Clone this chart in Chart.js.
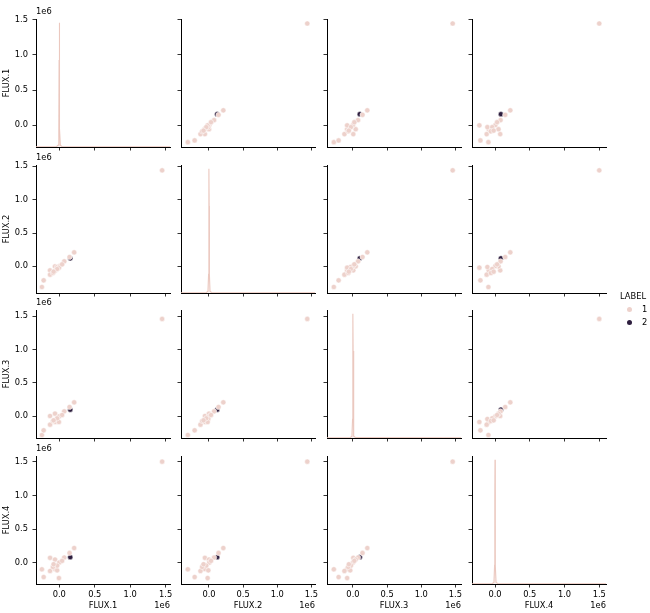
<!DOCTYPE html>
<html><head><meta charset="utf-8">
<script src="https://cdn.jsdelivr.net/npm/chart.js@4.4.0/dist/chart.umd.min.js"></script>
<style>
html,body{margin:0;padding:0;background:#fff;}
#wrap{position:relative;width:650px;height:613px;overflow:hidden;}
#wrap canvas{position:absolute;}
.leg{position:absolute;font-family:'DejaVu Sans';font-size:8.3px;color:#000;line-height:10px;white-space:nowrap;}
.dot{position:absolute;width:5px;height:5px;border-radius:50%;}
</style></head><body><div id="wrap"></div>
<script>
// ---------------- data ----------------
const variables = ['FLUX.1', 'FLUX.2', 'FLUX.3', 'FLUX.4'];
const labelClasses = [1, 2];
const flux1 = [1450000, 210000, 145000, 155000, 70000, -130000, -60000, 0, -245000, -60000, -130000, -30000, -220000, -5000, -30000, 40000, -90000, -80000];
const flux2 = [1440000, 210000, 140000, 120000, 75000, -60000, 0, 5000, -310000, -65000, -125000, -10000, -210000, -20000, -40000, 30000, -100000, -80000];
const flux3 = [1460000, 210000, 140000, 100000, 75000, 5000, 40000, 0, -280000, -85000, -125000, -40000, -210000, -85000, -30000, 20000, -70000, -60000];
const flux4 = [1500000, 220000, 147000, 85000, 80000, 75000, 50000, 5000, -95000, -90000, -120000, -110000, -210000, -225000, -40000, 30000, -60000, -20000];
const pointLabel = [1, 1, 1, 2, 1, 1, 1, 1, 1, 1, 1, 1, 1, 1, 1, 1, 1, 1];

const tickValues = [0, 500000, 1000000, 1500000];
const tickLabels = ['0.0', '0.5', '1.0', '1.5'];

// axis limits: columns (x) and rows (y)
const colMin = [-328000, -410000, -380000, -331000];
const colMax = [1561000, 1553000, 1582000, 1597000];
const rowMin = [-314000, -400000, -325000, -313000];
const rowMax = [1514000, 1520000, 1594000, 1584000];

// diagonal KDE curves (relative density)
const kdeX1 = [-328000, -40000, -15000, -6000, -2500, 0, 2500, 6000, 15000, 40000, 1561000];
const kdeX2 = [-410000, -40000, -15000, -6000, -2500, 0, 2500, 6000, 15000, 40000, 1553000];
const kdeX3 = [-380000, -40000, -15000, -6000, -2500, 0, 2500, 6000, 15000, 40000, 1582000];
const kdeX4 = [-331000, -40000, -15000, -6000, -2500, 0, 2500, 6000, 15000, 40000, 1597000];
const kdeY1 = [0.002, 0.003, 0.015, 0.15, 0.7, 1.0, 0.7, 0.15, 0.015, 0.003, 0.002];
const kdeY2 = [0.002, 0.003, 0.015, 0.15, 0.7, 1.0, 0.7, 0.15, 0.015, 0.003, 0.002];
const kdeY3 = [0.002, 0.003, 0.015, 0.15, 0.7, 1.0, 0.7, 0.15, 0.015, 0.003, 0.002];
const kdeY4 = [0.002, 0.003, 0.015, 0.15, 0.7, 1.0, 0.7, 0.15, 0.015, 0.003, 0.002];

// ---------------- build ----------------
const fluxes = [flux1, flux2, flux3, flux4];
const kdeXs = [kdeX1, kdeX2, kdeX3, kdeX4];
const kdeYs = [kdeY1, kdeY2, kdeY3, kdeY4];
const classColor = {1: '#edd1cb', 2: '#2d1e3e'};
const colLeft = [36, 181, 327, 472];
const rowTop = [19, 165, 310, 456];
const PW = 134, PH = 128, YW = 36, XH = 28, PT = 19, PR = 12;
const FONT = {family: 'DejaVu Sans', size: 8.3};
const wrap = document.getElementById('wrap');

const offsetPlugin = {
  id: 'offsetText',
  afterDraw(chart, args, opts) {
    const ctx = chart.ctx, a = chart.chartArea;
    ctx.save();
    ctx.fillStyle = '#000';
    ctx.font = '8.3px "DejaVu Sans"';
    ctx.textBaseline = 'middle';
    if (opts.c === 0) { ctx.textAlign = 'left'; ctx.fillText('1e6', a.left, a.top - 7); }
    if (opts.r === 3) { ctx.textAlign = 'right'; ctx.fillText('1e6', a.right, a.bottom + 22); }
    ctx.restore();
  }
};

function axisCommon(show) {
  return {
    grid: {display: true, drawOnChartArea: false, drawTicks: true, tickLength: 3.5, tickColor: '#000', tickWidth: 0.8},
    border: {display: true, color: '#000', width: 1},
    ticks: {autoSkip: false, maxRotation: 0, minRotation: 0, color: '#000', font: FONT,
      callback: (v) => show ? tickLabels[tickValues.indexOf(v)] : ''},
    afterBuildTicks: (s) => { s.ticks = tickValues.map(v => ({value: v})); }
  };
}

for (let r = 0; r < 4; r++) {
  for (let c = 0; c < 4; c++) {
    const cv = document.createElement('canvas');
    cv.width = YW + PW + PR; cv.height = PT + PH + XH;
    cv.style.left = (colLeft[c] - YW) + 'px';
    cv.style.top = (rowTop[r] - PT) + 'px';
    cv.style.width = cv.width + 'px'; cv.style.height = cv.height + 'px';
    wrap.appendChild(cv);

    const datasets = [];
    if (r === c) {
      datasets.push({
        type: 'line', yAxisID: 'yd',
        data: kdeXs[c].map((x, i) => ({x: x, y: kdeYs[c][i]})),
        borderColor: '#ebc8bf', borderWidth: 1.1, pointRadius: 0,
        fill: 'origin', backgroundColor: 'rgba(237,209,203,0.3)', tension: 0
      });
    } else {
      labelClasses.forEach(k => {
        const pts = [];
        pointLabel.forEach((l, i) => { if (l === k) pts.push({x: fluxes[c][i], y: fluxes[r][i]}); });
        datasets.push({
          type: 'scatter', yAxisID: 'y', data: pts,
          backgroundColor: classColor[k], borderColor: '#ffffff', borderWidth: 0.5,
          pointRadius: 2.6, pointHoverRadius: 2.6
        });
      });
    }

    const xs = Object.assign({type: 'linear', position: 'bottom', min: colMin[c], max: colMax[c],
      afterFit: (s) => { s.height = XH; },
      title: {display: r === 3, text: variables[c], color: '#000', font: FONT, padding: {top: 0, bottom: 1}}
    }, axisCommon(r === 3));
    xs.ticks.padding = 2;
    const ys = Object.assign({type: 'linear', position: 'left', min: rowMin[r], max: rowMax[r],
      afterFit: (s) => { s.width = YW; },
      title: {display: c === 0, text: variables[r], color: '#000', font: FONT, padding: {top: 2, bottom: 0}}
    }, axisCommon(c === 0));
    ys.ticks.padding = 4.5;
    const scales = {x: xs, y: ys};
    if (r === c) scales.yd = {type: 'linear', display: false, min: 0, max: 1.03};

    new Chart(cv, {
      data: {datasets: datasets},
      options: {
        responsive: false, animation: false, devicePixelRatio: 1,
        layout: {padding: {left: 0, top: PT, right: PR, bottom: 0}},
        plugins: {legend: {display: false}, tooltip: {enabled: false}, offsetText: {r: r, c: c}},
        scales: scales
      },
      plugins: [offsetPlugin]
    });
  }
}

// legend (seaborn style, right side)
function addText(txt, x, y) {
  const d = document.createElement('div'); d.className = 'leg'; d.textContent = txt;
  d.style.left = x + 'px'; d.style.top = (y - 5) + 'px'; wrap.appendChild(d);
}
function addDot(col, x, y) {
  const d = document.createElement('div'); d.className = 'dot'; d.style.background = col;
  d.style.left = (x - 2.5) + 'px'; d.style.top = (y - 2.5) + 'px'; wrap.appendChild(d);
}
addText('LABEL', 620, 296);
labelClasses.forEach((k, i) => {
  addDot(classColor[k], 629, 309 + i * 13);
  addText(String(k), 642, 309 + i * 13);
});
</script></body></html>
